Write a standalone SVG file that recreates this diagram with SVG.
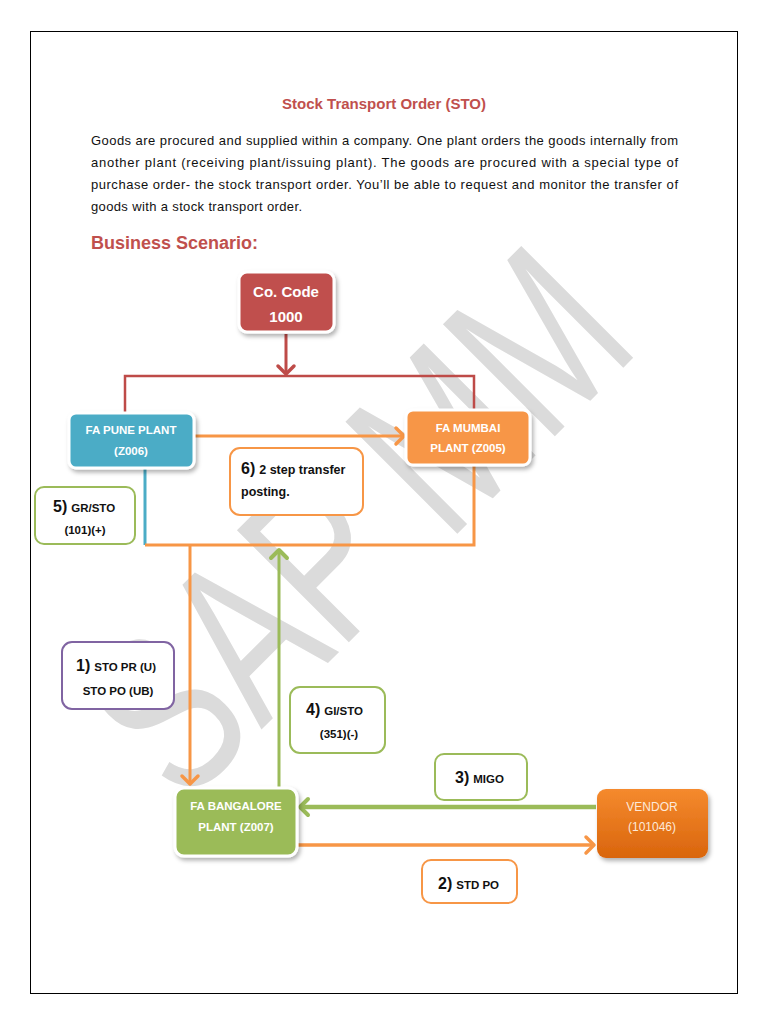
<svg xmlns="http://www.w3.org/2000/svg" width="768" height="1024" viewBox="0 0 768 1024">
<defs>
<style>
text{font-family:"Liberation Sans",Arial,sans-serif}
.para{font-size:13px;fill:#111111}
.head{font-weight:bold;fill:#c0504d}
.nt{font-size:11.5px;font-weight:bold;fill:#ffffff;text-anchor:middle}
.vt{font-size:12px;fill:#fde9d9;text-anchor:middle}
.lbl{fill:#ffffff;stroke-width:2}
.lt{font-size:11.5px;font-weight:bold;fill:#111111}
.lt2{font-size:12.5px;font-weight:bold;fill:#111111}
.num{font-size:16px;font-weight:bold;fill:#111111}
.wm{font-size:230px;fill:#dbdbdb;text-anchor:middle}
.node{stroke:#ffffff;stroke-width:3}
.ln{fill:none;stroke-linecap:butt}
</style>
<filter id="sh" x="-20%" y="-20%" width="150%" height="160%">
<feDropShadow dx="2" dy="3" stdDeviation="2" flood-color="#000000" flood-opacity="0.3"/>
</filter>
<linearGradient id="vg" x1="0" y1="0" x2="0" y2="1">
<stop offset="0" stop-color="#f58a2e"/>
<stop offset="1" stop-color="#d9650c"/>
</linearGradient>
<marker id="aRed" markerUnits="userSpaceOnUse" viewBox="0 0 20 20" refX="10" refY="10" markerWidth="20" markerHeight="20" orient="auto" overflow="visible">
<path d="M2,2 L10,10 L2,18" fill="none" stroke="#be4b48" stroke-width="3.5" stroke-linecap="round" stroke-linejoin="round"/>
</marker>
<marker id="aOr" markerUnits="userSpaceOnUse" viewBox="0 0 20 20" refX="10" refY="10" markerWidth="20" markerHeight="20" orient="auto" overflow="visible">
<path d="M2,2 L10,10 L2,18" fill="none" stroke="#f79646" stroke-width="3.5" stroke-linecap="round" stroke-linejoin="round"/>
</marker>
<marker id="aGr" markerUnits="userSpaceOnUse" viewBox="0 0 20 20" refX="10" refY="10" markerWidth="20" markerHeight="20" orient="auto" overflow="visible">
<path d="M2,2 L10,10 L2,18" fill="none" stroke="#9bbb59" stroke-width="4" stroke-linecap="round" stroke-linejoin="round"/>
</marker>
</defs>
<rect x="0" y="0" width="768" height="1024" fill="#ffffff"/>
<rect x="30.5" y="31.5" width="707" height="962" fill="none" stroke="#000000" stroke-width="1"/>

<text class="wm" transform="translate(413,578) rotate(-45)" textLength="650" lengthAdjust="spacingAndGlyphs">SAP MM</text>

<text class="head" x="384" y="109" font-size="15" text-anchor="middle">Stock Transport Order (STO)</text>
<text class="para" x="91" y="145" textLength="587" lengthAdjust="spacing">Goods are procured and supplied within a company. One plant orders the goods internally from</text>
<text class="para" x="91" y="167" textLength="587" lengthAdjust="spacing">another plant (receiving plant/issuing plant). The goods are procured with a special type of</text>
<text class="para" x="91" y="189" textLength="587" lengthAdjust="spacing">purchase order- the stock transport order. You’ll be able to request and monitor the transfer of</text>
<text class="para" x="91" y="211" textLength="211" lengthAdjust="spacing">goods with a stock transport order.</text>
<text class="head" x="91" y="249" font-size="18">Business Scenario:</text>

<g id="connectors">
<path class="ln" d="M286,334 V374" stroke="#be4b48" stroke-width="3" marker-end="url(#aRed)"/>
<path class="ln" d="M125,413 V376 H474 V410" stroke="#be4b48" stroke-width="2.5"/>
<path class="ln" d="M195,436 H404" stroke="#f79646" stroke-width="3" marker-end="url(#aOr)"/>
<path class="ln" d="M145,468 V545" stroke="#4bacc6" stroke-width="3"/>
<path class="ln" d="M474,465 V545 H145" stroke="#f79646" stroke-width="3"/>
<path class="ln" d="M190,545 V784" stroke="#f79646" stroke-width="3" marker-end="url(#aOr)"/>
<path class="ln" d="M279,787 V550" stroke="#9bbb59" stroke-width="3" marker-end="url(#aGr)"/>
<path class="ln" d="M596,807 H300" stroke="#9bbb59" stroke-width="4.5" marker-end="url(#aGr)"/>
<path class="ln" d="M297,845 H594" stroke="#f79646" stroke-width="3.5" marker-end="url(#aOr)"/>
</g>

<g id="cocode">
<rect class="node" x="239" y="272" width="95" height="60" rx="8" fill="#c0504d" filter="url(#sh)"/>
<text x="286" y="297" font-size="15" font-weight="bold" fill="#ffffff" text-anchor="middle">Co. Code</text>
<text x="286" y="322" font-size="15" font-weight="bold" fill="#ffffff" text-anchor="middle">1000</text>
</g>

<g id="pune">
<rect class="node" x="69" y="413" width="125" height="55" rx="7" fill="#4bacc6" filter="url(#sh)"/>
<text class="nt" x="131" y="434">FA PUNE PLANT</text>
<text class="nt" x="131" y="455">(Z006)</text>
</g>

<g id="mumbai">
<rect class="node" x="406" y="410" width="124" height="55" rx="7" fill="#f79646" filter="url(#sh)"/>
<text class="nt" x="468" y="432">FA MUMBAI</text>
<text class="nt" x="468" y="452">PLANT (Z005)</text>
</g>

<g id="step6">
<rect class="lbl" x="230" y="448" width="133" height="67" rx="10" stroke="#f79646"/>
<text x="241" y="474"><tspan class="num">6)</tspan><tspan class="lt2" dx="4">2 step transfer</tspan></text>
<text class="lt2" x="241" y="496">posting.</text>
</g>

<g id="step5">
<rect class="lbl" x="35" y="487" width="100" height="57" rx="9" stroke="#9bbb59"/>
<text x="53" y="512"><tspan class="num">5)</tspan><tspan class="lt" dx="4">GR/STO</tspan></text>
<text class="lt" x="85" y="534" text-anchor="middle">(101)(+)</text>
</g>

<g id="step1">
<rect class="lbl" x="62" y="642" width="112" height="67" rx="10" stroke="#8064a2"/>
<text x="76" y="671"><tspan class="num">1)</tspan><tspan class="lt" dx="4">STO PR (U)</tspan></text>
<text class="lt" x="118" y="695" text-anchor="middle">STO PO (UB)</text>
</g>

<g id="step4">
<rect class="lbl" x="290" y="687" width="95" height="66" rx="10" stroke="#9bbb59"/>
<text x="306" y="715"><tspan class="num">4)</tspan><tspan class="lt" dx="4">GI/STO</tspan></text>
<text class="lt" x="339" y="738" text-anchor="middle">(351)(-)</text>
</g>

<g id="bangalore">
<rect class="node" x="175" y="788" width="122" height="68" rx="9" fill="#9bbb59" filter="url(#sh)"/>
<text class="nt" x="236" y="810">FA BANGALORE</text>
<text class="nt" x="236" y="831">PLANT (Z007)</text>
</g>

<g id="vendor">
<rect x="597" y="789" width="111" height="69" rx="9" fill="url(#vg)" filter="url(#sh)"/>
<text class="vt" x="652" y="811">VENDOR</text>
<text class="vt" x="652" y="831">(101046)</text>
</g>

<g id="step3">
<rect class="lbl" x="435" y="754" width="92" height="46" rx="9" stroke="#9bbb59"/>
<text x="455" y="783"><tspan class="num">3)</tspan><tspan class="lt" dx="4">MIGO</tspan></text>
</g>

<g id="step2">
<rect class="lbl" x="422" y="860" width="95" height="43" rx="9" stroke="#f79646"/>
<text x="438" y="889"><tspan class="num">2)</tspan><tspan class="lt" dx="4">STD PO</tspan></text>
</g>
</svg>
